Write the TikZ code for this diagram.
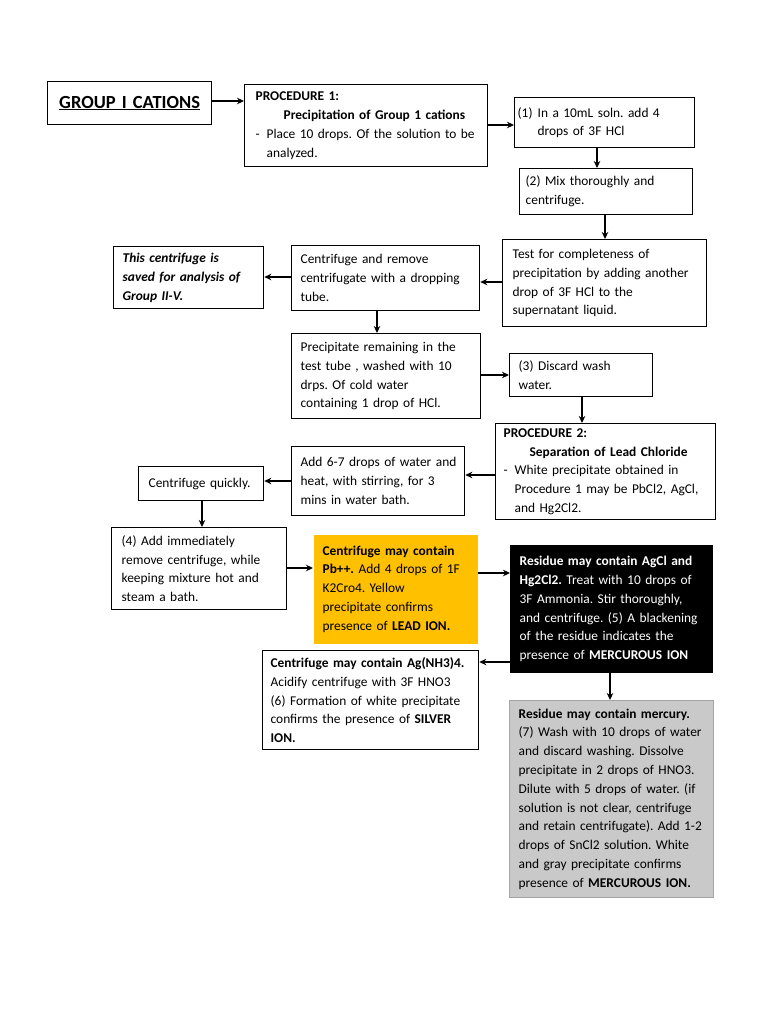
\documentclass[tikz,border=0pt]{standalone}
\usepackage{fontspec}
\setmainfont{Carlito}
\usetikzlibrary{arrows.meta}
\frenchspacing
\newcommand\lp[1]{\leftskip=#1pt\relax}
\definecolor{leadyellow}{HTML}{FFC000}
\definecolor{mercgray}{HTML}{C9C9C9}
\definecolor{mercedge}{HTML}{A5A5A5}
\begin{document}
\begin{tikzpicture}[x=1pt,y=-1pt,
  box/.style={draw=black, line width=1.3pt, inner xsep=0pt, inner ysep=3pt,
    anchor=north west, align=left, font=\fontsize{13.4}{18.8}\selectfont},
  arr/.style={line width=1.8pt, -{Stealth[length=7pt,width=6.5pt]}},
]
\fill[white] (0,0) rectangle (768,1024);
\useasboundingbox (0,0) rectangle (768,1024);

\node[box, align=center, text width=164pt, minimum height=43pt,
  font=\fontsize{18.5}{22}\selectfont\bfseries] (A) at (47,81) {\underline{GROUP I CATIONS}};

\node[box, text width=243pt, minimum height=82pt] (B) at (244,84)
 {\lp{11}\textbf{PROCEDURE 1:}\\
  \hspace*{28pt}\textbf{Precipitation of Group 1 cations}\\
  \makebox[11pt][l]{-}Place 10 drops. Of the solution to be\\
  \hspace*{11pt}analyzed.\par};

\node[box, text width=180pt, minimum height=50pt] (C) at (514,97)
 {\lp{3}\makebox[20pt][l]{(1)}In a 10mL soln. add 4\\
  \hspace*{20pt}drops of 3F HCl\par};

\node[box, text width=173pt, minimum height=46pt] (D) at (519,168)
 {\lp{6}(2) Mix thoroughly and\\ centrifuge.\par};

\node[box, text width=204pt, minimum height=87pt] (E) at (502,239)
 {\lp{10}Test for completeness of\\ precipitation by adding another\\ drop of 3F HCl to the\\ supernatant liquid.\par};

\node[box, text width=188pt, minimum height=65pt] (F) at (291,245)
 {\lp{9}Centrifuge and remove\\ centrifugate with a dropping\\ tube.\par};

\node[box, text width=150pt, minimum height=62pt] (G) at (113,246)
 {\lp{9}\textbf{\textit{This centrifuge is\\ saved for analysis of\\ Group II-V.}}\par};

\node[box, text width=189pt, minimum height=85pt] (H) at (291,333)
 {\lp{9}Precipitate remaining in the\\ test tube , washed with 10\\ drps. Of cold water\\ containing 1 drop of HCl.\par};

\node[box, text width=143pt, minimum height=43pt] (I) at (509,353)
 {\lp{9}(3) Discard wash\\ water.\par};

\node[box, text width=220pt, minimum height=96pt] (J) at (495,423)
 {\lp{8}\textbf{PROCEDURE 2:}\\
  \hspace*{26pt}\textbf{Separation of Lead Chloride}\\
  \makebox[11pt][l]{-}White precipitate obtained in\\
  \hspace*{11pt}Procedure 1 may be PbCl2, AgCl,\\
  \hspace*{11pt}and Hg2Cl2.\par};

\node[box, text width=173pt, minimum height=69pt] (K) at (291,446)
 {\lp{9}Add 6-7 drops of water and\\ heat, with stirring, for 3\\ mins in water bath.\par};

\node[box, text width=125pt, minimum height=34pt] (L) at (138,466)
 {\lp{10}Centrifuge quickly.\par};

\node[box, text width=175pt, minimum height=82pt] (M) at (111,527)
 {\lp{10}(4) Add immediately\\ remove centrifuge, while\\ keeping mixture hot and\\ steam a bath.\par};

\node[box, draw=none, fill=leadyellow, text width=164pt, minimum height=109pt] (N) at (313,534)
 {\lp{9}\textbf{Centrifuge may contain}\\ \textbf{Pb++.} Add 4 drops of 1F\\ K2Cro4. Yellow\\ precipitate confirms\\ presence of \textbf{LEAD ION.}\par};

\node[box, fill=black, text=white, text width=202pt, minimum height=127pt] (O) at (510,545)
 {\lp{9}\textbf{Residue may contain AgCl and}\\ \textbf{Hg2Cl2.} Treat with 10 drops of\\ 3F Ammonia. Stir thoroughly,\\ and centrifuge. (5) A blackening\\ of the residue indicates the\\ presence of \textbf{MERCUROUS ION}\par};

\node[box, text width=216pt, minimum height=99pt] (P) at (262,650)
 {\lp{8}\textbf{Centrifuge may contain Ag(NH3)4.}\\ Acidify centrifuge with 3F HNO3\\ (6) Formation of white precipitate\\ confirms the presence of \textbf{SILVER}\\ \textbf{ION.}\par};

\node[box, draw=mercedge, fill=mercgray, text width=204pt, minimum height=197pt] (Q) at (509,700)
 {\lp{9}\textbf{Residue may contain mercury.}\\ (7) Wash with 10 drops of water\\ and discard washing. Dissolve\\ precipitate in 2 drops of HNO3.\\ Dilute with 5 drops of water. (if\\ solution is not clear, centrifuge\\ and retain centrifugate). Add 1-2\\ drops of SnCl2 solution. White\\ and gray precipitate confirms\\ presence of \textbf{MERCUROUS ION.}\par};

% connectors
\draw[arr] (A.east |- 0,101) -- (B.west |- 0,101);
\draw[arr] (B.east |- 0,125) -- (C.west |- 0,125);
\draw[arr] (C.south -| 597,0) -- (D.north -| 597,0);
\draw[arr] (D.south -| 605,0) -- (E.north -| 605,0);
\draw[arr] (E.west |- 0,282) -- (F.east |- 0,282);
\draw[arr] (F.west |- 0,277) -- (G.east |- 0,277);
\draw[arr] (F.south -| 377,0) -- (H.north -| 377,0);
\draw[arr] (H.east |- 0,375) -- (I.west |- 0,375);
\draw[arr] (I.south -| 582,0) -- (J.north -| 582,0);
\draw[arr] (J.west |- 0,475) -- (K.east |- 0,475);
\draw[arr] (K.west |- 0,481) -- (L.east |- 0,481);
\draw[arr] (L.south -| 202,0) -- (M.north -| 202,0);
\draw[arr] (M.east |- 0,568) -- (N.west |- 0,568);
\draw[arr] (N.east |- 0,573) -- (O.west |- 0,573);
\draw[arr] (O.west |- 0,662) -- (P.east |- 0,662);
\draw[arr] (O.south -| 610,0) -- (Q.north -| 610,0);
\end{tikzpicture}
\end{document}
